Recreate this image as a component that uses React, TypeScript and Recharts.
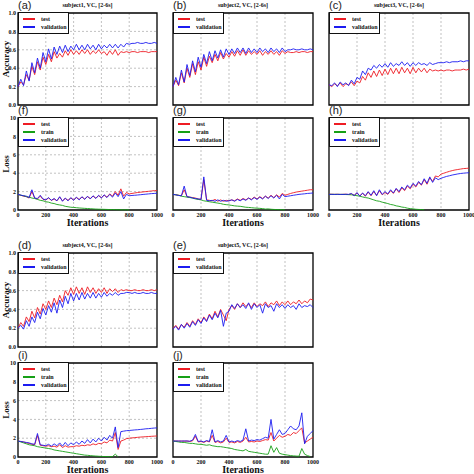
import { LineChart, Line, XAxis, YAxis, CartesianGrid, ReferenceArea } from "recharts";

// iteration axis, sampled every 20 iterations
const iterations = [
  0, 20, 40, 60, 80, 100, 120, 140, 160, 180,
  200, 220, 240, 260, 280, 300, 320, 340, 360, 380,
  400, 420, 440, 460, 480, 500, 520, 540, 560, 580,
  600, 620, 640, 660, 680, 700, 720, 740, 760, 780,
  800, 820, 840, 860, 880, 900, 920, 940, 960, 980,
  1000,
];
const xTicks = [0, 200, 400, 600, 800, 1000];
const accTicks = [0, 0.2, 0.4, 0.6, 0.8, 1.0];
const lossTicks = [0, 2, 4, 6, 8, 10];

// ---- accuracy (a)-(e) ----
const accTestA = [
  0.20, 0.25, 0.22, 0.33, 0.27, 0.42, 0.33, 0.47, 0.38, 0.52,
  0.44, 0.55, 0.47, 0.58, 0.51, 0.56, 0.52, 0.59, 0.54, 0.60,
  0.55, 0.59, 0.55, 0.60, 0.56, 0.60, 0.55, 0.59, 0.56, 0.60,
  0.56, 0.58, 0.54, 0.59, 0.55, 0.60, 0.54, 0.58, 0.57, 0.58,
  0.57, 0.58, 0.58, 0.57, 0.58, 0.58, 0.58, 0.57, 0.58, 0.58,
  0.58,
];
const accValA = [
  0.20, 0.28, 0.21, 0.37, 0.26, 0.46, 0.35, 0.51, 0.40, 0.57,
  0.47, 0.61, 0.50, 0.63, 0.55, 0.64, 0.57, 0.65, 0.58, 0.64,
  0.60, 0.66, 0.60, 0.65, 0.60, 0.66, 0.61, 0.65, 0.60, 0.66,
  0.61, 0.65, 0.62, 0.66, 0.62, 0.66, 0.62, 0.66, 0.63, 0.67,
  0.66, 0.67, 0.67, 0.68, 0.67, 0.67, 0.68, 0.67, 0.67, 0.68,
  0.67,
];
const accTestB = [
  0.20, 0.27, 0.21, 0.35, 0.24, 0.40, 0.30, 0.45, 0.33, 0.47,
  0.38, 0.52, 0.42, 0.53, 0.46, 0.55, 0.48, 0.57, 0.50, 0.56,
  0.52, 0.58, 0.53, 0.59, 0.54, 0.60, 0.54, 0.59, 0.55, 0.58,
  0.55, 0.59, 0.54, 0.58, 0.55, 0.59, 0.55, 0.58, 0.54, 0.59,
  0.56, 0.58, 0.57, 0.57, 0.58, 0.57, 0.58, 0.58, 0.57, 0.58,
  0.58,
];
const accValB = [
  0.20, 0.30, 0.22, 0.38, 0.25, 0.44, 0.32, 0.48, 0.36, 0.52,
  0.41, 0.55, 0.45, 0.58, 0.48, 0.59, 0.51, 0.60, 0.52, 0.61,
  0.55, 0.61, 0.56, 0.62, 0.57, 0.62, 0.56, 0.62, 0.57, 0.61,
  0.57, 0.62, 0.58, 0.61, 0.57, 0.62, 0.58, 0.61, 0.57, 0.62,
  0.58, 0.60, 0.60, 0.61, 0.60, 0.60, 0.61, 0.60, 0.60, 0.61,
  0.60,
];
const accTestC = [
  0.22, 0.20, 0.23, 0.21, 0.24, 0.20, 0.23, 0.22, 0.25, 0.21,
  0.26, 0.24, 0.31, 0.27, 0.35, 0.30, 0.37, 0.31, 0.38, 0.32,
  0.39, 0.33, 0.40, 0.34, 0.40, 0.34, 0.41, 0.35, 0.40, 0.34,
  0.41, 0.35, 0.40, 0.36, 0.40, 0.35, 0.39, 0.37, 0.38, 0.37,
  0.38, 0.37, 0.38, 0.38, 0.37, 0.38, 0.38, 0.38, 0.39, 0.38,
  0.39,
];
const accValC = [
  0.22, 0.21, 0.24, 0.20, 0.25, 0.22, 0.24, 0.21, 0.27, 0.23,
  0.30, 0.28, 0.37, 0.33, 0.40, 0.38, 0.43, 0.40, 0.44, 0.41,
  0.45, 0.41, 0.46, 0.42, 0.45, 0.43, 0.47, 0.43, 0.46, 0.42,
  0.46, 0.43, 0.46, 0.44, 0.45, 0.43, 0.46, 0.44, 0.45, 0.46,
  0.46, 0.46, 0.47, 0.46, 0.47, 0.47, 0.47, 0.48, 0.47, 0.48,
  0.48,
];
const accTestD = [
  0.20, 0.26, 0.22, 0.32, 0.27, 0.38, 0.31, 0.42, 0.35, 0.46,
  0.40, 0.49, 0.42, 0.52, 0.45, 0.55, 0.48, 0.60, 0.55, 0.63,
  0.56, 0.64, 0.57, 0.63, 0.56, 0.64, 0.58, 0.63, 0.57, 0.62,
  0.58, 0.63, 0.57, 0.62, 0.59, 0.62, 0.58, 0.61, 0.60, 0.61,
  0.60, 0.60, 0.61, 0.60, 0.60, 0.61, 0.60, 0.60, 0.61, 0.60,
  0.61,
];
const accValD = [
  0.20, 0.23, 0.19, 0.28, 0.22, 0.32, 0.26, 0.37, 0.30, 0.41,
  0.34, 0.44, 0.37, 0.47, 0.36, 0.50, 0.42, 0.54, 0.46, 0.57,
  0.49, 0.57, 0.50, 0.58, 0.51, 0.57, 0.52, 0.58, 0.52, 0.57,
  0.53, 0.58, 0.54, 0.57, 0.55, 0.58, 0.55, 0.57, 0.57, 0.58,
  0.58, 0.57, 0.58, 0.57, 0.57, 0.58, 0.57, 0.57, 0.58, 0.57,
  0.57,
];
const accTestE = [
  0.20, 0.23, 0.19, 0.24, 0.21, 0.26, 0.22, 0.28, 0.24, 0.30,
  0.26, 0.32, 0.28, 0.35, 0.30, 0.38, 0.32, 0.40, 0.34, 0.28,
  0.40, 0.44, 0.40, 0.46, 0.42, 0.47, 0.43, 0.46, 0.42, 0.47,
  0.43, 0.46, 0.44, 0.48, 0.43, 0.47, 0.45, 0.49, 0.44, 0.48,
  0.45, 0.49, 0.45, 0.48, 0.46, 0.50, 0.46, 0.49, 0.47, 0.51,
  0.50,
];
const accValE = [
  0.19, 0.22, 0.18, 0.24, 0.20, 0.25, 0.21, 0.27, 0.23, 0.29,
  0.25, 0.31, 0.27, 0.34, 0.29, 0.36, 0.31, 0.39, 0.22, 0.36,
  0.38, 0.45, 0.41, 0.46, 0.42, 0.45, 0.41, 0.47, 0.40, 0.46,
  0.42, 0.45, 0.36, 0.46, 0.42, 0.44, 0.38, 0.46, 0.42, 0.45,
  0.41, 0.45, 0.42, 0.44, 0.40, 0.46, 0.42, 0.44, 0.43, 0.45,
  0.42,
];

// ---- loss (f)-(j) ----
const lossTestF = [
  1.7, 1.6, 1.5, 1.45, 1.3, 2.0, 1.3, 1.2, 1.5, 1.15,
  1.1, 1.3, 1.05, 1.2, 1.0, 1.4, 1.0, 1.25, 1.05, 1.3,
  1.1, 1.35, 1.15, 1.4, 1.2, 1.45, 1.25, 1.5, 1.3, 1.55,
  1.35, 1.6, 1.4, 1.75, 1.5, 2.0, 1.6, 2.3, 1.5, 1.9,
  1.75, 1.8, 1.85, 1.9, 1.93, 1.97, 2.0, 2.03, 2.07, 2.1,
  2.12,
];
const lossValF = [
  1.7, 1.62, 1.55, 1.5, 1.35, 2.2, 1.3, 1.25, 1.6, 1.2,
  1.1, 1.35, 1.05, 1.25, 1.0, 1.45, 0.95, 1.3, 1.0, 1.35,
  1.05, 1.4, 1.1, 1.45, 1.15, 1.5, 1.2, 1.55, 1.25, 1.6,
  1.3, 1.65, 1.35, 1.7, 1.4, 1.85, 1.45, 2.0, 1.2, 1.7,
  1.55, 1.58, 1.6, 1.63, 1.66, 1.69, 1.72, 1.75, 1.78, 1.8,
  1.82,
];
const lossTrainF = [
  1.7, 1.6, 1.55, 1.45, 1.4, 1.3, 1.25, 1.15, 1.05, 1.0,
  0.9, 0.85, 0.75, 0.7, 0.6, 0.55, 0.5, 0.4, 0.35, 0.3,
  0.28, 0.25, 0.22, 0.2, 0.18, 0.16, 0.14, 0.12, 0.1, 0.09,
  0.08, 0.07, 0.06, 0.05, 0.05, 0.04, 0.03, 0.03, 0.02, 0.02,
  0.01, null, null, null, null, null, null, null, null, null,
  null,
];
const lossTestG = [
  1.7, 1.65, 1.6, 1.55, 2.2, 1.45, 1.4, 1.35, 1.3, 1.2,
  1.15, 3.3, 1.1, 1.05, 1.0, 1.15, 0.95, 1.1, 0.95, 1.05,
  1.0, 1.1, 1.0, 1.2, 1.05, 1.25, 1.1, 1.3, 1.15, 1.4,
  1.2, 1.45, 1.25, 1.5, 1.3, 1.6, 1.35, 1.65, 1.4, 1.8,
  1.6, 1.7, 1.8, 1.88, 1.95, 2.0, 2.05, 2.1, 2.15, 2.2,
  2.2,
];
const lossValG = [
  1.7, 1.65, 1.58, 1.55, 2.6, 1.45, 1.4, 1.3, 1.25, 1.2,
  1.15, 3.6, 1.05, 1.0, 1.05, 0.95, 1.1, 0.95, 1.05, 0.95,
  1.0, 1.1, 0.95, 1.15, 1.0, 1.2, 1.05, 1.3, 1.1, 1.35,
  1.15, 1.4, 1.2, 1.5, 1.25, 1.55, 1.3, 1.6, 1.2, 1.7,
  1.45, 1.5, 1.55, 1.6, 1.65, 1.7, 1.73, 1.76, 1.8, 1.82,
  1.85,
];
const lossTrainG = [
  1.7, 1.65, 1.6, 1.5, 1.45, 1.4, 1.35, 1.3, 1.2, 1.15,
  1.1, 1.0, 0.95, 0.9, 0.85, 0.8, 0.75, 0.7, 0.62, 0.58,
  0.55, 0.5, 0.45, 0.42, 0.4, 0.35, 0.3, 0.28, 0.25, 0.22,
  0.2, 0.18, 0.15, 0.1, 0.12, 0.08, 0.06, 0.05, 0.04, 0.03,
  0.02, null, null, null, null, null, null, null, null, null,
  null,
];
const lossTestH = [
  1.72, 1.71, 1.70, 1.71, 1.69, 1.70, 1.72, 1.68, 1.75, 1.60,
  1.85, 1.55, 1.80, 1.50, 1.95, 1.55, 2.0, 1.6, 2.1, 1.65,
  1.9, 1.7, 2.1, 1.8, 2.3, 1.9, 2.4, 2.1, 2.6, 2.3,
  2.8, 2.5, 3.0, 2.7, 3.3, 2.8, 3.5, 3.1, 3.7, 3.6,
  3.9, 4.0, 4.1, 4.2, 4.28, 4.35, 4.4, 4.45, 4.5, 4.52,
  4.55,
];
const lossValH = [
  1.7, 1.7, 1.69, 1.7, 1.7, 1.69, 1.71, 1.7, 1.8, 1.55,
  1.9, 1.5, 1.85, 1.55, 2.0, 1.6, 2.1, 1.55, 2.2, 1.7,
  2.0, 1.75, 2.2, 1.85, 2.35, 2.0, 2.5, 2.2, 2.7, 2.4,
  2.9, 2.6, 3.1, 2.75, 3.4, 2.9, 3.6, 3.0, 3.5, 3.3,
  3.45, 3.55, 3.65, 3.72, 3.8, 3.86, 3.92, 3.97, 4.0, 4.03,
  4.05,
];
const lossTrainH = [
  1.7, 1.7, 1.7, 1.7, 1.69, 1.7, 1.68, 1.67, 1.65, 1.6,
  1.55, 1.5, 1.42, 1.35, 1.3, 1.2, 1.1, 1.0, 0.95, 0.85,
  0.78, 0.7, 0.6, 0.55, 0.45, 0.4, 0.32, 0.28, 0.2, 0.15,
  0.12, 0.08, 0.06, 0.05, 0.03, null, null, null, null, null,
  null, null, null, null, null, null, null, null, null, null,
  null,
];
const lossTestI = [
  1.7, 1.65, 1.6, 1.5, 1.45, 1.35, 1.3, 2.3, 1.25, 1.2,
  1.15, 1.2, 1.1, 1.15, 1.05, 1.3, 1.0, 1.2, 1.05, 1.1,
  1.1, 1.2, 1.15, 1.25, 1.2, 1.3, 1.25, 1.4, 1.3, 1.45,
  1.4, 1.6, 1.5, 1.8, 1.7, 2.6, 0.8, 1.7, 1.8, 1.95,
  2.0, 2.03, 2.06, 2.09, 2.12, 2.14, 2.16, 2.18, 2.2, 2.22,
  2.24,
];
const lossValI = [
  1.7, 1.65, 1.6, 1.55, 1.5, 1.4, 1.35, 2.5, 1.3, 1.25,
  1.2, 1.35, 1.15, 1.4, 1.2, 1.5, 1.15, 1.55, 1.2, 1.5,
  1.3, 1.6, 1.35, 1.7, 1.45, 1.85, 1.5, 1.9, 1.6, 2.0,
  1.7, 2.1, 1.8, 2.3, 2.0, 3.2, 1.0, 2.7, 2.75, 2.8,
  2.82, 2.85, 2.88, 2.9, 2.93, 2.96, 3.0, 3.02, 3.05, 3.08,
  3.1,
];
const lossTrainI = [
  1.7, 1.6, 1.5, 1.4, 1.3, 1.25, 1.2, 1.1, 1.05, 1.0,
  0.95, 0.9, 0.85, 0.75, 0.7, 0.65, 0.6, 0.55, 0.5, 0.45,
  0.4, 0.35, 0.3, 0.25, 0.2, 0.18, 0.15, 0.12, 0.1, 0.08,
  0.06, 0.05, 0.04, 0.03, 0.05, 0.3, 0.02, null, null, null,
  null, null, null, null, null, null, null, null, null, null,
  null,
];
const lossTestJ = [
  1.7, 1.7, 1.69, 1.7, 1.68, 1.7, 1.65, 1.72, 2.2, 1.6,
  1.65, 1.55, 1.7, 1.6, 2.3, 1.55, 1.65, 1.5, 1.6, 2.0,
  1.55, 1.6, 1.5, 1.65, 1.55, 1.7, 2.1, 1.6, 1.65, 1.6,
  1.7, 1.65, 1.75, 1.85, 1.8, 2.6, 1.7, 2.0, 2.3, 2.1,
  2.2, 2.4, 2.3, 2.6, 2.5, 2.8, 3.1, 1.5, 1.7, 1.9,
  2.1,
];
const lossValJ = [
  1.7, 1.7, 1.7, 1.69, 1.71, 1.7, 1.68, 1.8, 2.4, 1.65,
  1.7, 1.6, 1.75, 1.65, 2.9, 1.6, 1.75, 1.6, 1.7, 2.3,
  1.6, 1.7, 1.6, 1.75, 1.65, 1.8, 3.0, 1.7, 1.8, 1.75,
  1.85, 1.8, 1.95, 2.1, 2.0, 4.0, 1.9, 2.4, 2.9, 2.4,
  2.5, 2.9, 3.3, 3.0, 2.9, 3.3, 4.7, 1.4, 2.2, 2.5,
  2.8,
];
const lossTrainJ = [
  1.7, 1.65, 1.6, 1.55, 1.55, 1.5, 1.45, 1.45, 1.4, 1.35,
  1.35, 1.3, 1.25, 1.3, 1.2, 1.15, 1.1, 1.1, 1.05, 1.0,
  0.95, 0.9, 0.8, 0.75, 0.7, 0.65, 0.8, 0.6, 0.55, 0.5,
  0.45, 0.4, 0.35, 0.3, 0.3, 1.2, 0.5, 1.0, 0.4, 0.3,
  0.25, 0.2, 0.15, 0.12, 0.1, 0.08, 0.9, 0.3, 0.15, 0.05,
  null,
];

const SERIF = "'Liberation Serif', 'Times New Roman', serif";
const SANS = "'Liberation Sans', Arial, sans-serif";
const RED = "#ee1c24";
const GREEN = "#16a016";
const BLUE = "#1c1cf0";

const YW = 18;
const MT = 4;
const MR = 8;

type Vals = (number | null)[];

interface PanelSpec {
  letter: string;
  title?: string;
  kind: "acc" | "loss";
  x: number;
  y: number;
  w: number;
  h: number;
  first: boolean;
  test: Vals;
  val: Vals;
  train?: Vals;
}

const cols = [18, 173, 329];
const widths = [139, 140, 140];

const panels: PanelSpec[] = [
  { letter: "(a)", title: "subject1, VC, [2-6s]", kind: "acc", x: cols[0], y: 13, w: widths[0], h: 92, first: true, test: accTestA, val: accValA },
  { letter: "(b)", title: "subject2, VC, [2-6s]", kind: "acc", x: cols[1], y: 13, w: widths[1], h: 92, first: false, test: accTestB, val: accValB },
  { letter: "(c)", title: "subject3, VC, [2-6s]", kind: "acc", x: cols[2], y: 13, w: widths[2], h: 92, first: false, test: accTestC, val: accValC },
  { letter: "(f)", kind: "loss", x: cols[0], y: 118, w: widths[0], h: 92, first: true, test: lossTestF, val: lossValF, train: lossTrainF },
  { letter: "(g)", kind: "loss", x: cols[1], y: 118, w: widths[1], h: 92, first: false, test: lossTestG, val: lossValG, train: lossTrainG },
  { letter: "(h)", kind: "loss", x: cols[2], y: 118, w: widths[2], h: 92, first: false, test: lossTestH, val: lossValH, train: lossTrainH },
  { letter: "(d)", title: "subject4, VC, [2-6s]", kind: "acc", x: cols[0], y: 253, w: widths[0], h: 94, first: true, test: accTestD, val: accValD },
  { letter: "(e)", title: "subject5, VC, [2-6s]", kind: "acc", x: cols[1], y: 253, w: widths[1], h: 94, first: false, test: accTestE, val: accValE },
  { letter: "(i)", kind: "loss", x: cols[0], y: 363, w: widths[0], h: 94, first: true, test: lossTestI, val: lossValI, train: lossTrainI },
  { letter: "(j)", kind: "loss", x: cols[1], y: 363, w: widths[1], h: 94, first: false, test: lossTestJ, val: lossValJ, train: lossTrainJ },
];

const tickStyle = { fontSize: 6, fontFamily: SERIF, fontWeight: "bold", fill: "#111" };

function Panel({ p }: { p: PanelSpec }) {
  const isLoss = p.kind === "loss";
  const yMax = isLoss ? 10 : 1;
  const xh = isLoss ? 16 : 0;
  const mb = isLoss ? 1 : 6;
  const data = iterations.map((it, i) => ({
    it,
    test: p.test[i],
    validation: p.val[i],
    train: p.train ? p.train[i] : null,
  }));
  const series = [
    { key: "test", color: RED },
    ...(p.train ? [{ key: "train", color: GREEN }] : []),
    { key: "validation", color: BLUE },
  ];
  return (
    <>
      <div style={{ position: "absolute", left: p.x - YW, top: p.y - MT }}>
        <LineChart
          width={p.w + YW + MR}
          height={p.h + MT + xh + mb}
          data={data}
          margin={{ top: MT, right: MR, bottom: mb, left: 0 }}
        >
          <CartesianGrid
            stroke="#a8a8a8"
            strokeDasharray="2 2"
            strokeWidth={0.7}
            verticalValues={[200, 400, 600, 800]}
            horizontalValues={isLoss ? [2, 4, 6, 8] : [0.2, 0.4, 0.6, 0.8]}
          />
          <XAxis
            dataKey="it"
            type="number"
            domain={[0, 1000]}
            ticks={xTicks}
            interval={0}
            hide={!isLoss}
            height={xh}
            tickLine={false}
            axisLine={false}
            tickSize={0}
            tickMargin={3}
            tick={tickStyle}
            label={{ value: "Iterations", position: "insideBottom", offset: 0, fontSize: 10, fontWeight: "bold", fontFamily: SERIF, fill: "#111" }}
          />
          <YAxis
            type="number"
            domain={[0, yMax]}
            ticks={isLoss ? lossTicks : accTicks}
            interval={0}
            width={YW}
            tickLine={false}
            axisLine={false}
            tickSize={0}
            tickMargin={2}
            tick={p.first ? tickStyle : false}
            tickFormatter={(v: number) => (isLoss ? String(v) : v.toFixed(1))}
          />
          {series.map((s) => (
            <Line
              key={s.key}
              dataKey={s.key}
              name={s.key}
              stroke={s.color}
              strokeWidth={0.9}
              dot={false}
              type="linear"
              isAnimationActive={false}
            />
          ))}
          <ReferenceArea x1={0} x2={1000} y1={0} y2={yMax} fill="none" fillOpacity={0} stroke="#000" strokeWidth={1.3} />
        </LineChart>
      </div>
      {/* legend box */}
      <div
        style={{
          position: "absolute",
          left: p.x,
          top: p.y - 1,
          width: 49,
          border: "1.6px solid #111",
          background: "#fff",
          padding: "2px 0 2px 0",
          fontFamily: SERIF,
          fontWeight: "bold",
          fontSize: 6,
          lineHeight: "8px",
          color: "#111",
        }}
      >
        {series.map((s) => (
          <div key={s.key} style={{ display: "flex", alignItems: "center", height: 8 }}>
            <div style={{ width: 12, height: 1.2, marginLeft: 4, marginRight: 6, background: s.color, flex: "none" }} />
            <span>{s.key}</span>
          </div>
        ))}
      </div>
      <div style={{ position: "absolute", left: p.x, top: p.y - 14, fontFamily: SANS, fontSize: 11, lineHeight: "12px", color: "#222" }}>
        {p.letter}
      </div>
      {p.title && (
        <div
          style={{
            position: "absolute",
            left: p.x,
            width: p.w,
            top: p.y - 12,
            textAlign: "center",
            fontFamily: SERIF,
            fontWeight: "bold",
            fontSize: 6,
            lineHeight: "8px",
            color: "#111",
          }}
        >
          {p.title}
        </div>
      )}
      {p.first && (
        <div
          style={{
            position: "absolute",
            left: 6 - 30,
            top: p.y + p.h / 2 - 6,
            width: 60,
            height: 12,
            textAlign: "center",
            transform: "rotate(-90deg)",
            fontFamily: SERIF,
            fontWeight: "bold",
            fontSize: 9,
            lineHeight: "12px",
            color: "#111",
          }}
        >
          {isLoss ? "Loss" : "Accuracy"}
        </div>
      )}
    </>
  );
}

export default function App() {
  return (
    <div style={{ position: "absolute", left: 0, top: 0, width: 474, height: 474, overflow: "hidden", background: "#fff" }}>
      {panels.map((p) => (
        <Panel key={p.letter} p={p} />
      ))}
    </div>
  );
}
